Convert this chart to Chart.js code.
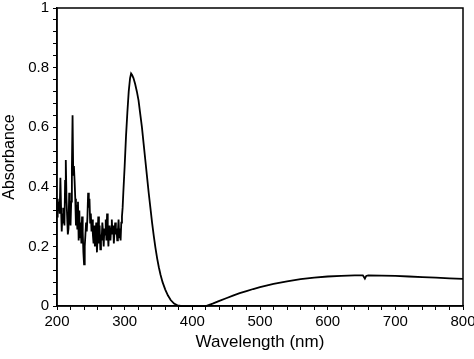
<!DOCTYPE html>
<html>
<head>
<meta charset="utf-8">
<script src="https://cdn.jsdelivr.net/npm/chart.js@4"></script>
<style>
  html, body { margin: 0; padding: 0; background: #fff; }
  #wrap { width: 474px; height: 359px; }
</style>
</head>
<body>
<div id="wrap"><canvas id="spectrum"></canvas></div>
<script>
// absorbance spectrum
const wavelength = [
  200, 201, 202, 203, 204, 205, 206, 207, 208, 209, 210, 211, 212, 213, 214, 215, 216, 217, 218, 219,
  220, 221, 222, 223, 224, 225, 226, 227, 228, 229, 230, 231, 232, 233, 234, 235, 236, 237, 238, 239,
  240, 241, 242, 243, 244, 245, 246, 247, 248, 249, 250, 251, 252, 253, 254, 255, 256, 257, 258, 259,
  260, 261, 262, 263, 264, 265, 266, 267, 268, 269, 270, 271, 272, 273, 274, 275, 276, 277, 278, 279,
  280, 281, 282, 283, 284, 285, 286, 287, 288, 289, 290, 291, 292, 293, 294, 295, 296,
  297, 298, 300, 302, 304, 306, 308, 309.5, 311, 313, 315.5, 318, 320.5, 323, 325.5, 328, 330.5,
  333, 335.5, 338, 340.5, 343, 345.5, 348, 350.5, 353, 356, 360, 364, 368, 373, 378, 383,
  420, 430, 440, 450, 460, 470, 480, 490, 500, 520, 540, 560, 580, 600, 620, 640, 652, 655, 657,
  660, 680, 700, 720, 740, 760, 780, 800
];
const absorbance = [
  0.30, 0.36, 0.32, 0.35, 0.31, 0.43, 0.33, 0.25, 0.31, 0.28, 0.33, 0.27, 0.42, 0.49, 0.36, 0.30, 0.24, 0.26, 0.38, 0.30,
  0.27, 0.35, 0.46, 0.64, 0.44, 0.47, 0.42, 0.36, 0.27, 0.34, 0.26, 0.35, 0.22, 0.32, 0.23, 0.28, 0.21, 0.30, 0.25, 0.18,
  0.14, 0.20, 0.24, 0.28, 0.25, 0.30, 0.38, 0.33, 0.36, 0.28, 0.31, 0.25, 0.29, 0.24, 0.21, 0.27, 0.20, 0.24, 0.28, 0.18,
  0.23, 0.30, 0.21, 0.27, 0.19, 0.24, 0.22, 0.28, 0.25, 0.20, 0.26, 0.24, 0.29, 0.22, 0.31, 0.25, 0.20, 0.27, 0.25, 0.22,
  0.26, 0.29, 0.24, 0.27, 0.21, 0.25, 0.28, 0.24, 0.26, 0.22, 0.25, 0.29, 0.23, 0.26, 0.22, 0.28, 0.30,
  0.33, 0.38, 0.47, 0.57, 0.65, 0.72, 0.765, 0.78, 0.775, 0.765, 0.745, 0.72, 0.69, 0.645, 0.60, 0.545, 0.49,
  0.435, 0.38, 0.33, 0.28, 0.235, 0.195, 0.16, 0.13, 0.105, 0.08, 0.055, 0.035, 0.02, 0.008, 0.002, 0,
  0, 0.008, 0.017, 0.026, 0.035, 0.043, 0.05, 0.057, 0.063, 0.074, 0.083, 0.09, 0.095, 0.099, 0.101, 0.103, 0.103, 0.092, 0.101,
  0.103, 0.102, 0.101, 0.099, 0.097, 0.095, 0.093, 0.091
];

const points = wavelength.map((w, i) => ({ x: w, y: absorbance[i] }));

// box round the plot area
const frame = {
  id: "frame",
  afterDraw(chart) {
    const { ctx, chartArea: a } = chart;
    ctx.save();
    ctx.strokeStyle = "#000";
    ctx.lineWidth = 1.5;
    ctx.strokeRect(a.left, a.top, a.right - a.left, a.bottom - a.top);
    ctx.restore();
  },
};

const font = "'Liberation Sans', Arial, sans-serif";

new Chart(document.getElementById("spectrum"), {
  type: "line",
  data: {
    datasets: [
      {
        data: points,
        borderColor: "#000",
        borderWidth: 1.8,
        pointRadius: 0,
        tension: 0,
        fill: false,
        clip: 3,
      },
    ],
  },
  options: {
    responsive: true,
    maintainAspectRatio: false,
    animation: false,
    layout: { padding: { top: 8, right: 11, left: 0, bottom: 0 } },
    plugins: { legend: { display: false }, tooltip: { enabled: false } },
    scales: {
      x: {
        type: "linear",
        min: 200,
        max: 800,
        grid: { drawOnChartArea: false, drawTicks: true, tickLength: 4, color: "#000", lineWidth: 1 },
        border: { color: "#000", width: 1.5 },
        ticks: {
          stepSize: 20,
          autoSkip: false,
          maxRotation: 0,
          color: "#000",
          padding: 3,
          font: { family: font, size: 15 },
          callback: (v) => (v % 100 === 0 ? String(v) : ""),
        },
        title: {
          display: true,
          text: "Wavelength (nm)",
          color: "#000",
          font: { family: font, size: 17 },
          padding: { top: 0, bottom: 6 },
        },
        afterFit: (s) => {
          s.height = 53;
          s.paddingLeft = 0;
          s.paddingRight = 0;
        },
      },
      y: {
        min: 0,
        max: 1,
        grid: { drawOnChartArea: false, drawTicks: true, tickLength: 4, color: "#000", lineWidth: 1 },
        border: { color: "#000", width: 1.5 },
        ticks: {
          stepSize: 0.04,
          autoSkip: false,
          color: "#000",
          padding: 4,
          font: { family: font, size: 15 },
          callback: (v) => {
            const k = v * 5;
            return Math.abs(k - Math.round(k)) < 1e-6 ? String(Math.round(k) / 5) : "";
          },
        },
        title: {
          display: true,
          text: "Absorbance",
          color: "#000",
          font: { family: font, size: 16 },
          padding: { top: 0, bottom: 4 },
        },
        afterFit: (s) => {
          s.width = 57;
          s.paddingTop = 0;
          s.paddingBottom = 0;
        },
      },
    },
  },
  plugins: [frame],
});
</script>
</body>
</html>
